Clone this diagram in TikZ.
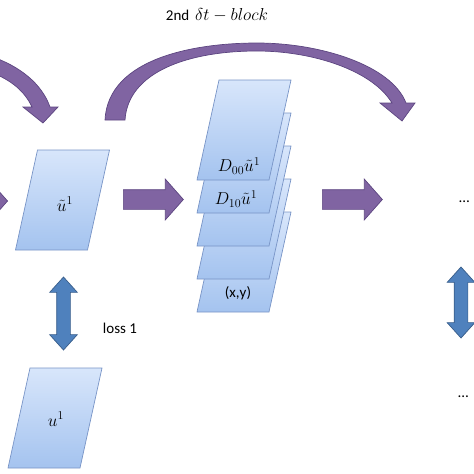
\documentclass[tikz,border=0pt]{standalone}
\usepackage{amsmath}
\usepackage{fontspec}
\setmainfont{Carlito}
\usetikzlibrary{shapes.arrows}
\definecolor{sheet}{HTML}{7894C6}
\definecolor{sheettop}{HTML}{D8E6FB}
\definecolor{sheetbot}{HTML}{A4C3EF}
\definecolor{purp}{HTML}{8064A2}
\definecolor{purpdk}{HTML}{5C4580}
\definecolor{blu}{HTML}{4F81BD}
\definecolor{bludk}{HTML}{385D8A}
\tikzset{
  para/.style={draw=sheet,line width=0.7pt,top color=sheettop,bottom color=sheetbot},
  parr/.style={single arrow,single arrow tip angle=97,single arrow head extend=10.5pt,inner sep=0pt,inner ysep=9.5pt,
    minimum width=40pt,minimum height=60pt,fill=purp,draw=purpdk,line width=0.7pt},
  darr/.style={double arrow,double arrow tip angle=84,double arrow head extend=7pt,inner sep=0pt,inner ysep=6.5pt,
    minimum width=27pt,rotate=90,fill=blu,draw=bludk,line width=0.7pt},
  carr/.style={fill=purp,draw=purpdk,line width=0.7pt},
  lab/.style={inner sep=1pt},
  mlab/.style={inner sep=1pt,font=\fontsize{17.28}{20}\selectfont},
}
\begin{document}
\begin{tikzpicture}[x=1pt,y=-1pt,every node/.style={font=\fontsize{15}{18}\selectfont}]
\useasboundingbox (0,0) rectangle (474,474);
% title
\node[lab] (title) at (217,15) {2nd~\,{\fontsize{17.28}{20}\selectfont$\delta t-block$}};
% curved arrows
\path[carr] (-10,56) .. controls (20,66) and (42,84) .. (50,107) -- (58,107) -- (43,123) -- (23,107) -- (32,107)
  .. controls (25,92) and (12,80) .. (-10,72) -- cycle;
\path[carr] (105,120) .. controls (108,58) and (195,43) .. (257,43) .. controls (322,43) and (392,66) .. (406,103)
  -- (415,103) -- (402,121) -- (380,103) -- (392,103)
  .. controls (372,70) and (312,51) .. (257,51) .. controls (188,51) and (128,72) .. (125,120) -- cycle;
% sheets
\coordinate (ut) at (62.5,200);
\coordinate (u) at (55,418);
\path[para] (ut) ++(-25,-50) -- ++(72,0) -- ++(-22,100) -- ++(-72,0) -- cycle;
\path[para] (u) ++(-25,-50) -- ++(72,0) -- ++(-22,100) -- ++(-72,0) -- cycle;
\node[mlab] (utl) at (65,204) {$\tilde{u}^1$};
\node[mlab] (ul) at (56,419) {$u^1$};
\foreach \i in {5,4,...,1}{
  \coordinate (s\i) at (244,{97+33*\i});
  \path[para] (s\i) ++(-25,-50) -- ++(72,0) -- ++(-22,100) -- ++(-72,0) -- cycle;
}
\node[mlab] (d00) at (239,166) {$D_{00}\tilde{u}^1$};
\node[mlab] (d10) at (236,199) {$D_{10}\tilde{u}^1$};
\node[lab] (xy) at (238,293) {(x,y)};
% block arrows
\node[parr,anchor=tip] (a0) at (8,201) {};
\node[parr,anchor=tail] (a1) at (123,199.5) {};
\node[parr,anchor=tail] (a2) at (322,199.5) {};
\node[darr,minimum height=73pt] (l1) at (63.5,313.5) {};
\node[darr,minimum height=71pt] (l2) at (461,302.5) {};
\node[lab] (loss) at (120,328) {loss 1};
\node[lab,anchor=west] (dt1) at (458,202) {\dots};
\node[lab,anchor=west] (dt2) at (457,397) {\dots};
\end{tikzpicture}
\end{document}
